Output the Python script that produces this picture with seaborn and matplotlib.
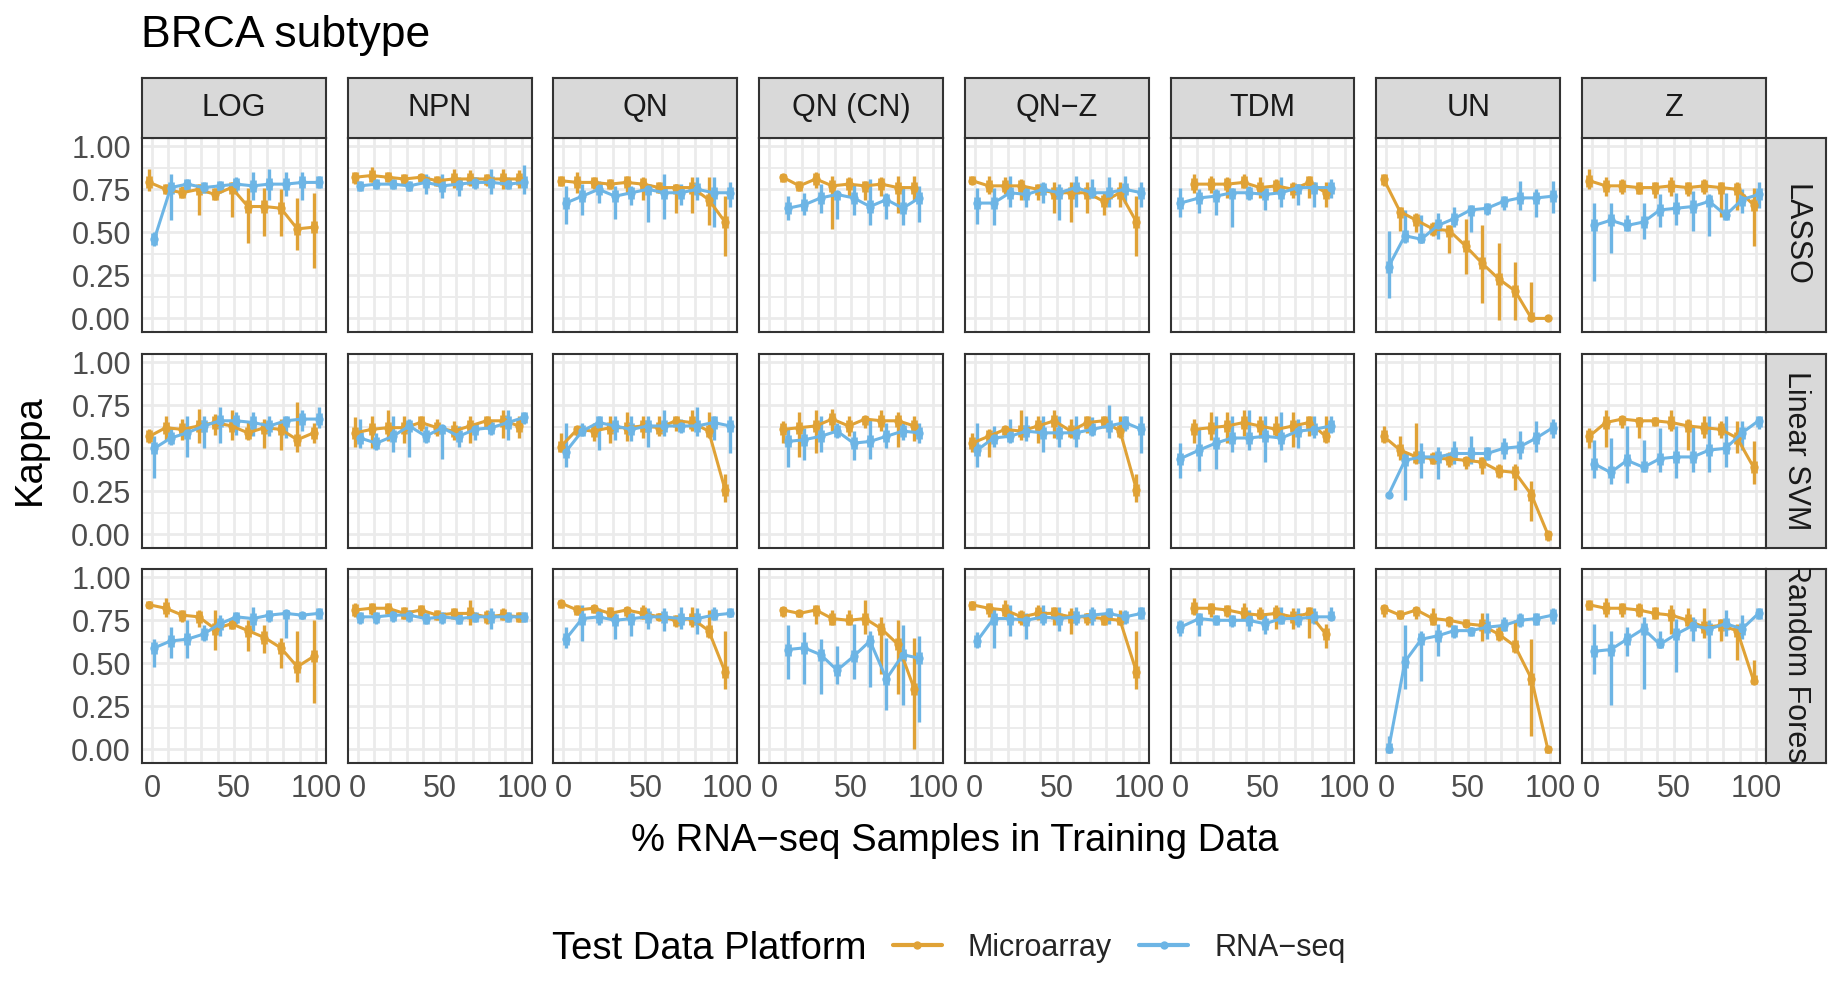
import numpy as np
import pandas as pd
import matplotlib
matplotlib.use("Agg")
import matplotlib.pyplot as plt
from matplotlib.lines import Line2D
import seaborn as sns

# ---- data ----
norms = ["LOG", "NPN", "QN", "QN (CN)", "QN-Z", "TDM", "UN", "Z"]
norm_labels = ["LOG", "NPN", "QN", "QN (CN)", "QN\u2212Z", "TDM", "UN", "Z"]
classifiers = ["LASSO", "Linear SVM", "Random Forest"]
platforms = ["Microarray", "RNA-seq"]
platform_labels = ["Microarray", "RNA\u2212seq"]

pct_all = list(range(0, 101, 10))
pct_10_90 = list(range(10, 91, 10))
pct_0_90 = list(range(0, 91, 10))
pct_mic = {n: pct_all for n in norms}
pct_mic["QN (CN)"] = pct_10_90
pct_mic["TDM"] = pct_10_90
pct_rna = {n: pct_all for n in norms}
pct_rna["QN (CN)"] = pct_10_90
pct_rna["TDM"] = pct_0_90

# LASSO
lasso_mic_mean = {
    "LOG": [0.79, 0.75, 0.73, 0.75, 0.72, 0.76, 0.65, 0.65, 0.64, 0.52, 0.53],
    "NPN": [0.82, 0.83, 0.82, 0.81, 0.82, 0.80, 0.81, 0.81, 0.81, 0.81, 0.81],
    "QN": [0.80, 0.79, 0.79, 0.78, 0.79, 0.78, 0.76, 0.76, 0.76, 0.69, 0.56],
    "QN (CN)": [0.82, 0.77, 0.81, 0.77, 0.78, 0.77, 0.78, 0.76, 0.76],
    "QN-Z": [0.80, 0.77, 0.77, 0.77, 0.75, 0.73, 0.73, 0.73, 0.68, 0.73, 0.56],
    "TDM": [0.78, 0.78, 0.78, 0.79, 0.76, 0.77, 0.75, 0.79, 0.73],
    "UN": [0.81, 0.62, 0.57, 0.52, 0.51, 0.42, 0.32, 0.23, 0.16, 0.00, 0.00],
    "Z": [0.80, 0.77, 0.77, 0.76, 0.76, 0.77, 0.76, 0.77, 0.76, 0.75, 0.66],
}
lasso_mic_lo = {
    "LOG": [0.74, 0.72, 0.70, 0.60, 0.69, 0.59, 0.44, 0.48, 0.48, 0.40, 0.29],
    "NPN": [0.78, 0.79, 0.79, 0.78, 0.79, 0.77, 0.76, 0.77, 0.77, 0.75, 0.76],
    "QN": [0.77, 0.73, 0.75, 0.75, 0.72, 0.69, 0.73, 0.61, 0.61, 0.54, 0.36],
    "QN (CN)": [0.79, 0.74, 0.76, 0.52, 0.71, 0.69, 0.71, 0.61, 0.69],
    "QN-Z": [0.78, 0.72, 0.72, 0.69, 0.69, 0.61, 0.56, 0.61, 0.60, 0.65, 0.36],
    "TDM": [0.73, 0.73, 0.70, 0.76, 0.70, 0.73, 0.70, 0.70, 0.65],
    "UN": [0.77, 0.51, 0.50, 0.48, 0.38, 0.26, 0.09, -0.01, -0.01, -0.01, -0.01],
    "Z": [0.75, 0.71, 0.72, 0.72, 0.70, 0.71, 0.71, 0.72, 0.59, 0.63, 0.42],
}
lasso_mic_hi = {
    "LOG": [0.87, 0.78, 0.77, 0.78, 0.76, 0.79, 0.76, 0.76, 0.75, 0.70, 0.73],
    "NPN": [0.85, 0.88, 0.85, 0.84, 0.84, 0.83, 0.87, 0.86, 0.84, 0.87, 0.86],
    "QN": [0.83, 0.85, 0.82, 0.81, 0.83, 0.82, 0.79, 0.78, 0.82, 0.82, 0.71],
    "QN (CN)": [0.84, 0.80, 0.85, 0.83, 0.82, 0.80, 0.82, 0.83, 0.83],
    "QN-Z": [0.83, 0.83, 0.82, 0.81, 0.78, 0.79, 0.79, 0.79, 0.73, 0.79, 0.71],
    "TDM": [0.84, 0.83, 0.82, 0.84, 0.82, 0.81, 0.79, 0.83, 0.79],
    "UN": [0.84, 0.65, 0.61, 0.56, 0.54, 0.58, 0.54, 0.44, 0.33, 0.21, 0.01],
    "Z": [0.87, 0.82, 0.81, 0.79, 0.79, 0.82, 0.79, 0.81, 0.79, 0.79, 0.76],
}
lasso_rna_mean = {
    "LOG": [0.46, 0.76, 0.78, 0.76, 0.77, 0.78, 0.77, 0.78, 0.78, 0.79, 0.79],
    "NPN": [0.77, 0.78, 0.78, 0.77, 0.79, 0.77, 0.78, 0.79, 0.79, 0.78, 0.79],
    "QN": [0.67, 0.71, 0.75, 0.71, 0.73, 0.75, 0.73, 0.73, 0.75, 0.73, 0.73],
    "QN (CN)": [0.64, 0.66, 0.70, 0.72, 0.70, 0.65, 0.69, 0.64, 0.70],
    "QN-Z": [0.67, 0.67, 0.73, 0.72, 0.75, 0.73, 0.76, 0.73, 0.73, 0.75, 0.73],
    "TDM": [0.67, 0.70, 0.71, 0.73, 0.73, 0.72, 0.73, 0.76, 0.76, 0.76],
    "UN": [0.30, 0.48, 0.46, 0.54, 0.58, 0.63, 0.64, 0.68, 0.70, 0.70, 0.71],
    "Z": [0.54, 0.57, 0.54, 0.56, 0.63, 0.64, 0.65, 0.68, 0.60, 0.69, 0.72],
}
lasso_rna_lo = {
    "LOG": [0.42, 0.57, 0.74, 0.73, 0.73, 0.73, 0.69, 0.69, 0.71, 0.69, 0.76],
    "NPN": [0.74, 0.75, 0.75, 0.74, 0.72, 0.70, 0.71, 0.75, 0.72, 0.75, 0.72],
    "QN": [0.55, 0.60, 0.67, 0.58, 0.66, 0.56, 0.58, 0.66, 0.69, 0.53, 0.65],
    "QN (CN)": [0.57, 0.60, 0.61, 0.58, 0.60, 0.54, 0.58, 0.54, 0.56],
    "QN-Z": [0.55, 0.54, 0.65, 0.65, 0.67, 0.57, 0.65, 0.70, 0.65, 0.67, 0.65],
    "TDM": [0.59, 0.61, 0.60, 0.53, 0.69, 0.63, 0.65, 0.66, 0.65, 0.70],
    "UN": [0.12, 0.44, 0.44, 0.46, 0.53, 0.50, 0.60, 0.63, 0.63, 0.59, 0.61],
    "Z": [0.22, 0.38, 0.51, 0.46, 0.53, 0.54, 0.51, 0.48, 0.57, 0.61, 0.64],
}
lasso_rna_hi = {
    "LOG": [0.50, 0.84, 0.81, 0.79, 0.80, 0.82, 0.85, 0.87, 0.85, 0.85, 0.83],
    "NPN": [0.80, 0.81, 0.81, 0.80, 0.84, 0.84, 0.82, 0.82, 0.87, 0.82, 0.89],
    "QN": [0.77, 0.78, 0.80, 0.77, 0.77, 0.78, 0.84, 0.78, 0.82, 0.82, 0.79],
    "QN (CN)": [0.71, 0.73, 0.78, 0.73, 0.78, 0.81, 0.73, 0.77, 0.77],
    "QN-Z": [0.76, 0.76, 0.83, 0.77, 0.79, 0.78, 0.83, 0.81, 0.82, 0.83, 0.79],
    "TDM": [0.76, 0.75, 0.75, 0.76, 0.77, 0.76, 0.82, 0.78, 0.79, 0.81],
    "UN": [0.51, 0.63, 0.60, 0.61, 0.65, 0.66, 0.67, 0.71, 0.80, 0.75, 0.80],
    "Z": [0.67, 0.67, 0.60, 0.67, 0.72, 0.73, 0.74, 0.72, 0.73, 0.75, 0.79],
}

# Linear SVM
svm_mic_mean = {
    "LOG": [0.57, 0.62, 0.61, 0.63, 0.65, 0.63, 0.59, 0.62, 0.61, 0.55, 0.59],
    "NPN": [0.59, 0.61, 0.62, 0.62, 0.65, 0.62, 0.60, 0.63, 0.66, 0.66, 0.63],
    "QN": [0.51, 0.61, 0.60, 0.62, 0.62, 0.63, 0.62, 0.66, 0.65, 0.60, 0.26],
    "QN (CN)": [0.61, 0.62, 0.63, 0.67, 0.63, 0.67, 0.66, 0.66, 0.63],
    "QN-Z": [0.53, 0.57, 0.61, 0.60, 0.63, 0.66, 0.60, 0.65, 0.66, 0.60, 0.26],
    "TDM": [0.61, 0.62, 0.63, 0.65, 0.63, 0.61, 0.63, 0.65, 0.57],
    "UN": [0.57, 0.49, 0.45, 0.44, 0.44, 0.43, 0.42, 0.37, 0.36, 0.23, 0.00],
    "Z": [0.57, 0.65, 0.67, 0.66, 0.66, 0.65, 0.63, 0.62, 0.61, 0.56, 0.39],
}
svm_mic_lo = {
    "LOG": [0.53, 0.55, 0.55, 0.53, 0.58, 0.55, 0.55, 0.50, 0.49, 0.48, 0.53],
    "NPN": [0.51, 0.50, 0.54, 0.53, 0.60, 0.57, 0.55, 0.53, 0.61, 0.56, 0.56],
    "QN": [0.48, 0.57, 0.54, 0.53, 0.54, 0.56, 0.57, 0.60, 0.60, 0.56, 0.19],
    "QN (CN)": [0.53, 0.45, 0.47, 0.60, 0.57, 0.62, 0.60, 0.51, 0.54],
    "QN-Z": [0.48, 0.45, 0.57, 0.55, 0.53, 0.56, 0.56, 0.59, 0.62, 0.56, 0.19],
    "TDM": [0.53, 0.55, 0.53, 0.57, 0.56, 0.56, 0.51, 0.57, 0.53],
    "UN": [0.53, 0.43, 0.41, 0.41, 0.39, 0.38, 0.35, 0.33, 0.26, 0.08, -0.04],
    "Z": [0.50, 0.51, 0.62, 0.56, 0.63, 0.60, 0.49, 0.56, 0.56, 0.47, 0.29],
}
svm_mic_hi = {
    "LOG": [0.61, 0.69, 0.67, 0.73, 0.70, 0.72, 0.66, 0.67, 0.67, 0.77, 0.65],
    "NPN": [0.68, 0.69, 0.72, 0.69, 0.69, 0.67, 0.66, 0.69, 0.69, 0.72, 0.69],
    "QN": [0.59, 0.63, 0.65, 0.69, 0.71, 0.69, 0.69, 0.69, 0.72, 0.71, 0.35],
    "QN (CN)": [0.66, 0.71, 0.72, 0.73, 0.69, 0.69, 0.72, 0.71, 0.69],
    "QN-Z": [0.59, 0.61, 0.63, 0.72, 0.69, 0.72, 0.67, 0.69, 0.69, 0.69, 0.35],
    "TDM": [0.67, 0.71, 0.71, 0.72, 0.69, 0.69, 0.71, 0.69, 0.69],
    "UN": [0.63, 0.57, 0.65, 0.48, 0.48, 0.45, 0.45, 0.41, 0.41, 0.31, 0.02],
    "Z": [0.62, 0.72, 0.69, 0.68, 0.68, 0.72, 0.67, 0.69, 0.66, 0.66, 0.54],
}
svm_rna_mean = {
    "LOG": [0.50, 0.56, 0.59, 0.63, 0.66, 0.66, 0.65, 0.63, 0.66, 0.67, 0.67],
    "NPN": [0.56, 0.53, 0.57, 0.63, 0.57, 0.62, 0.57, 0.61, 0.62, 0.65, 0.68],
    "QN": [0.48, 0.60, 0.65, 0.63, 0.61, 0.63, 0.63, 0.63, 0.63, 0.65, 0.63],
    "QN (CN)": [0.54, 0.55, 0.57, 0.60, 0.53, 0.54, 0.57, 0.60, 0.59],
    "QN-Z": [0.49, 0.56, 0.57, 0.60, 0.59, 0.59, 0.59, 0.61, 0.63, 0.65, 0.61],
    "TDM": [0.44, 0.49, 0.53, 0.56, 0.56, 0.57, 0.56, 0.60, 0.61, 0.63],
    "UN": [0.23, 0.43, 0.45, 0.45, 0.47, 0.47, 0.47, 0.50, 0.51, 0.56, 0.62],
    "Z": [0.41, 0.36, 0.43, 0.39, 0.44, 0.45, 0.45, 0.49, 0.50, 0.59, 0.66],
}
svm_rna_lo = {
    "LOG": [0.33, 0.52, 0.45, 0.50, 0.53, 0.58, 0.57, 0.57, 0.56, 0.60, 0.62],
    "NPN": [0.50, 0.49, 0.48, 0.45, 0.53, 0.44, 0.51, 0.55, 0.58, 0.55, 0.64],
    "QN": [0.39, 0.57, 0.49, 0.55, 0.54, 0.51, 0.57, 0.59, 0.57, 0.55, 0.47],
    "QN (CN)": [0.39, 0.43, 0.48, 0.56, 0.43, 0.44, 0.50, 0.55, 0.53],
    "QN-Z": [0.39, 0.51, 0.53, 0.54, 0.48, 0.51, 0.51, 0.57, 0.56, 0.60, 0.47],
    "TDM": [0.33, 0.37, 0.38, 0.48, 0.49, 0.42, 0.49, 0.50, 0.56, 0.59],
    "UN": [0.22, 0.20, 0.33, 0.32, 0.41, 0.41, 0.43, 0.44, 0.44, 0.48, 0.56],
    "Z": [0.33, 0.29, 0.30, 0.36, 0.36, 0.33, 0.36, 0.36, 0.39, 0.49, 0.61],
}
svm_rna_hi = {
    "LOG": [0.57, 0.62, 0.69, 0.69, 0.74, 0.71, 0.71, 0.69, 0.69, 0.72, 0.74],
    "NPN": [0.67, 0.59, 0.69, 0.67, 0.63, 0.63, 0.63, 0.65, 0.66, 0.72, 0.71],
    "QN": [0.65, 0.65, 0.69, 0.69, 0.69, 0.69, 0.72, 0.67, 0.74, 0.69, 0.69],
    "QN (CN)": [0.62, 0.62, 0.69, 0.65, 0.60, 0.67, 0.65, 0.65, 0.65],
    "QN-Z": [0.65, 0.63, 0.67, 0.69, 0.69, 0.69, 0.69, 0.68, 0.75, 0.69, 0.69],
    "TDM": [0.53, 0.62, 0.69, 0.69, 0.72, 0.69, 0.71, 0.67, 0.69, 0.69],
    "UN": [0.24, 0.48, 0.53, 0.51, 0.54, 0.57, 0.51, 0.56, 0.60, 0.66, 0.67],
    "Z": [0.55, 0.56, 0.63, 0.55, 0.62, 0.63, 0.63, 0.69, 0.69, 0.66, 0.69],
}

# Random Forest
rf_mic_mean = {
    "LOG": [0.84, 0.82, 0.78, 0.77, 0.70, 0.73, 0.69, 0.65, 0.59, 0.48, 0.54],
    "NPN": [0.81, 0.82, 0.82, 0.79, 0.81, 0.78, 0.79, 0.79, 0.77, 0.78, 0.77],
    "QN": [0.85, 0.81, 0.82, 0.79, 0.81, 0.79, 0.77, 0.75, 0.76, 0.69, 0.45],
    "QN (CN)": [0.81, 0.79, 0.81, 0.76, 0.75, 0.76, 0.70, 0.61, 0.35],
    "QN-Z": [0.84, 0.82, 0.81, 0.77, 0.79, 0.79, 0.77, 0.77, 0.76, 0.75, 0.45],
    "TDM": [0.82, 0.82, 0.81, 0.79, 0.78, 0.79, 0.77, 0.79, 0.67],
    "UN": [0.82, 0.78, 0.81, 0.76, 0.75, 0.73, 0.72, 0.67, 0.60, 0.41, 0.00],
    "Z": [0.84, 0.82, 0.82, 0.81, 0.79, 0.78, 0.75, 0.71, 0.72, 0.69, 0.40],
}
rf_mic_lo = {
    "LOG": [0.82, 0.77, 0.74, 0.71, 0.58, 0.70, 0.57, 0.56, 0.47, 0.39, 0.27],
    "NPN": [0.77, 0.78, 0.78, 0.76, 0.77, 0.75, 0.76, 0.72, 0.73, 0.75, 0.74],
    "QN": [0.82, 0.78, 0.79, 0.76, 0.76, 0.76, 0.75, 0.71, 0.71, 0.65, 0.35],
    "QN (CN)": [0.77, 0.77, 0.73, 0.72, 0.72, 0.67, 0.44, 0.32, 0.00],
    "QN-Z": [0.81, 0.77, 0.77, 0.72, 0.75, 0.72, 0.67, 0.72, 0.72, 0.72, 0.35],
    "TDM": [0.78, 0.77, 0.77, 0.76, 0.76, 0.70, 0.70, 0.65, 0.59],
    "UN": [0.77, 0.76, 0.76, 0.72, 0.71, 0.71, 0.63, 0.63, 0.56, 0.08, -0.02],
    "Z": [0.81, 0.77, 0.77, 0.77, 0.76, 0.67, 0.71, 0.65, 0.63, 0.52, 0.38],
}
rf_mic_hi = {
    "LOG": [0.86, 0.88, 0.81, 0.81, 0.81, 0.77, 0.75, 0.72, 0.65, 0.69, 0.75],
    "NPN": [0.85, 0.85, 0.85, 0.83, 0.84, 0.81, 0.82, 0.87, 0.81, 0.82, 0.80],
    "QN": [0.87, 0.84, 0.84, 0.83, 0.83, 0.84, 0.79, 0.78, 0.83, 0.81, 0.69],
    "QN (CN)": [0.83, 0.81, 0.84, 0.81, 0.81, 0.87, 0.77, 0.75, 0.65],
    "QN-Z": [0.86, 0.85, 0.87, 0.81, 0.84, 0.83, 0.82, 0.79, 0.79, 0.81, 0.69],
    "TDM": [0.88, 0.85, 0.84, 0.85, 0.83, 0.84, 0.82, 0.83, 0.73],
    "UN": [0.84, 0.81, 0.83, 0.82, 0.77, 0.76, 0.79, 0.72, 0.75, 0.64, 0.02],
    "Z": [0.87, 0.88, 0.85, 0.85, 0.83, 0.84, 0.82, 0.82, 0.76, 0.73, 0.52],
}
rf_rna_mean = {
    "LOG": [0.59, 0.63, 0.64, 0.67, 0.73, 0.77, 0.76, 0.78, 0.79, 0.78, 0.79],
    "NPN": [0.77, 0.77, 0.78, 0.78, 0.76, 0.77, 0.76, 0.77, 0.77, 0.77, 0.77],
    "QN": [0.64, 0.76, 0.77, 0.75, 0.76, 0.77, 0.77, 0.76, 0.76, 0.78, 0.79],
    "QN (CN)": [0.58, 0.59, 0.55, 0.46, 0.54, 0.63, 0.41, 0.55, 0.53],
    "QN-Z": [0.63, 0.76, 0.76, 0.75, 0.77, 0.76, 0.77, 0.78, 0.79, 0.77, 0.79],
    "TDM": [0.71, 0.76, 0.75, 0.75, 0.75, 0.73, 0.76, 0.76, 0.77, 0.77],
    "UN": [0.00, 0.51, 0.64, 0.66, 0.69, 0.69, 0.71, 0.72, 0.75, 0.76, 0.78],
    "Z": [0.57, 0.58, 0.64, 0.70, 0.61, 0.67, 0.72, 0.70, 0.73, 0.70, 0.79],
}
rf_rna_lo = {
    "LOG": [0.48, 0.53, 0.53, 0.63, 0.66, 0.73, 0.69, 0.74, 0.65, 0.76, 0.76],
    "NPN": [0.73, 0.73, 0.74, 0.74, 0.73, 0.73, 0.73, 0.74, 0.70, 0.74, 0.74],
    "QN": [0.59, 0.63, 0.72, 0.64, 0.66, 0.70, 0.69, 0.70, 0.67, 0.75, 0.77],
    "QN (CN)": [0.41, 0.38, 0.32, 0.38, 0.41, 0.36, 0.23, 0.26, 0.16],
    "QN-Z": [0.59, 0.59, 0.66, 0.64, 0.72, 0.69, 0.72, 0.72, 0.73, 0.73, 0.76],
    "TDM": [0.66, 0.66, 0.72, 0.71, 0.69, 0.67, 0.73, 0.71, 0.73, 0.75],
    "UN": [-0.02, 0.35, 0.40, 0.54, 0.65, 0.66, 0.64, 0.69, 0.71, 0.72, 0.73],
    "Z": [0.44, 0.26, 0.54, 0.35, 0.59, 0.45, 0.63, 0.53, 0.66, 0.64, 0.76],
}
rf_rna_hi = {
    "LOG": [0.64, 0.71, 0.75, 0.72, 0.78, 0.80, 0.83, 0.81, 0.81, 0.80, 0.82],
    "NPN": [0.80, 0.80, 0.81, 0.81, 0.79, 0.80, 0.79, 0.80, 0.82, 0.80, 0.80],
    "QN": [0.71, 0.84, 0.82, 0.79, 0.79, 0.82, 0.82, 0.83, 0.82, 0.83, 0.82],
    "QN (CN)": [0.72, 0.68, 0.64, 0.60, 0.73, 0.69, 0.65, 0.72, 0.66],
    "QN-Z": [0.68, 0.82, 0.84, 0.79, 0.84, 0.83, 0.83, 0.83, 0.82, 0.81, 0.83],
    "TDM": [0.75, 0.79, 0.78, 0.78, 0.81, 0.79, 0.83, 0.82, 0.82, 0.83],
    "UN": [0.08, 0.72, 0.69, 0.73, 0.72, 0.71, 0.79, 0.77, 0.79, 0.79, 0.82],
    "Z": [0.73, 0.69, 0.71, 0.77, 0.69, 0.76, 0.77, 0.75, 0.81, 0.78, 0.82],
}

series = {
    ("LASSO", "Microarray"): (lasso_mic_mean, lasso_mic_lo, lasso_mic_hi),
    ("LASSO", "RNA-seq"): (lasso_rna_mean, lasso_rna_lo, lasso_rna_hi),
    ("Linear SVM", "Microarray"): (svm_mic_mean, svm_mic_lo, svm_mic_hi),
    ("Linear SVM", "RNA-seq"): (svm_rna_mean, svm_rna_lo, svm_rna_hi),
    ("Random Forest", "Microarray"): (rf_mic_mean, rf_mic_lo, rf_mic_hi),
    ("Random Forest", "RNA-seq"): (rf_rna_mean, rf_rna_lo, rf_rna_hi),
}
pct_of = {"Microarray": pct_mic, "RNA-seq": pct_rna}

# ---- long table ----
rows = []
for (clf, plat), (m, lo, hi) in series.items():
    for n in norms:
        for p, a, b, c in zip(pct_of[plat][n], m[n], lo[n], hi[n]):
            rows.append(dict(classifier=clf, norm=n, platform=plat, pct=p,
                             kappa=a, lo=b, hi=c))
df = pd.DataFrame(rows)

# dodge: shift only where both platforms are present at that x
dodge = 1.5
cnt = df.groupby(["classifier", "norm", "pct"])["platform"].transform("count")
sign = np.where(df["platform"] == "Microarray", -1.0, 1.0)
df["x"] = df["pct"] + np.where(cnt > 1, sign * dodge, 0.0)

# ---- style ----
sns.set_style("white")
plt.rcParams["font.family"] = ["Liberation Sans", "DejaVu Sans"]
palette = {"Microarray": "#E0A236", "RNA-seq": "#6DB5E5"}
grid_col = "#EBEBEB"
dark = "#333333"

W, H = 1840, 984
fig = plt.figure(figsize=(W / 100, H / 100), dpi=100)

left0, col_step, pw = 142, 205.7, 184
row_tops = [138, 354, 569]
ph = 194
strip = 60

def fbox(x, y, w, h):
    return [x / W, 1 - (y + h) / H, w / W, h / H]

xt = list(range(0, 101, 10))
xtl = [str(v) if v % 50 == 0 else "" for v in xt]

for r, clf in enumerate(classifiers):
    for c, n in enumerate(norms):
        ax = fig.add_axes(fbox(left0 + c * col_step, row_tops[r], pw, ph))
        ax.set_facecolor("white")
        ax.set_xlim(-6, 106)
        ax.set_ylim(-0.079, 1.048)
        ax.set_xticks(xt)
        ax.set_yticks([0, 0.25, 0.5, 0.75, 1.0])
        ax.set_yticks([0.125, 0.375, 0.625, 0.875], minor=True)
        ax.grid(which="major", color=grid_col, lw=2.0, zorder=0)
        ax.grid(which="minor", axis="y", color=grid_col, lw=1.3, zorder=0)
        ax.set_axisbelow(True)
        for s in ax.spines.values():
            s.set_color(dark)
            s.set_linewidth(1.5)
        ax.tick_params(axis="both", which="major", length=5, width=1.3,
                       color=dark, labelcolor="#4D4D4D", labelsize=22, pad=3)
        ax.tick_params(axis="y", which="minor", length=0)
        if c == 0:
            ax.set_yticklabels(["0.00", "0.25", "0.50", "0.75", "1.00"])
        else:
            ax.tick_params(axis="y", which="major", length=0, labelleft=False)
        if r == 2:
            ax.set_xticklabels(xtl)
        else:
            ax.tick_params(axis="x", length=0, labelbottom=False)

        sub = df[(df["classifier"] == clf) & (df["norm"] == n)]
        for plat in platforms:
            d = sub[sub["platform"] == plat].sort_values("pct")
            col = palette[plat]
            ax.vlines(d["x"], d["lo"], d["hi"], color=col, lw=2.4, zorder=3)
            ax.vlines(d["x"], np.maximum(d["lo"], d["kappa"] - 0.035),
                      np.minimum(d["hi"], d["kappa"] + 0.035),
                      color=col, lw=4.8, zorder=3)
            sns.lineplot(data=d, x="x", y="kappa", color=col, lw=2.2,
                         marker="o", markersize=6, markeredgewidth=0,
                         estimator=None, sort=False, legend=False, ax=ax,
                         zorder=4)
        ax.set_xlabel("")
        ax.set_ylabel("")

        # top strips
        if r == 0:
            sa = fig.add_axes(fbox(left0 + c * col_step, row_tops[0] - strip, pw, strip))
            sa.set_facecolor("#D9D9D9")
            sa.set_xticks([])
            sa.set_yticks([])
            for s in sa.spines.values():
                s.set_color(dark)
                s.set_linewidth(1.5)
            sa.text(0.5, 0.5, norm_labels[c], ha="center", va="center",
                    fontsize=22, color="#1A1A1A", transform=sa.transAxes)
    # right strips
    ra = fig.add_axes(fbox(left0 + 7 * col_step + pw, row_tops[r], strip, ph))
    ra.set_facecolor("#D9D9D9")
    ra.set_xticks([])
    ra.set_yticks([])
    for s in ra.spines.values():
        s.set_color(dark)
        s.set_linewidth(1.5)
    ra.text(0.5, 0.5, clf, ha="center", va="center", rotation=-90,
            fontsize=22, color="#1A1A1A", transform=ra.transAxes, clip_on=True)

fig.text(141 / W, 1 - 47 / H, "BRCA subtype", fontsize=32, va="baseline",
         ha="left", color="black")
fig.text(955 / W, 1 - 841 / H, "% RNA\u2212seq Samples in Training Data",
         fontsize=27.5, ha="center", va="center", color="black")
fig.text(30 / W, 1 - 450 / H, "Kappa", fontsize=27.5, rotation=90,
         ha="center", va="center", color="black")

# legend at the bottom
fig.text(552 / W, 1 - 959 / H, "Test Data Platform", fontsize=27.5,
         va="baseline", ha="left", color="black")
handles = [Line2D([], [], color=palette[p], lw=3, marker="o", markersize=6,
                  markeredgewidth=0) for p in platforms]
fig.legend(handles, platform_labels, loc="center left",
           bbox_to_anchor=(893 / W, 1 - 948 / H), ncol=2, frameon=False,
           fontsize=22, handlelength=1.6, handletextpad=0.85,
           columnspacing=0.9, borderpad=0, borderaxespad=0)

fig.savefig("out.png", dpi=100, facecolor="white")
